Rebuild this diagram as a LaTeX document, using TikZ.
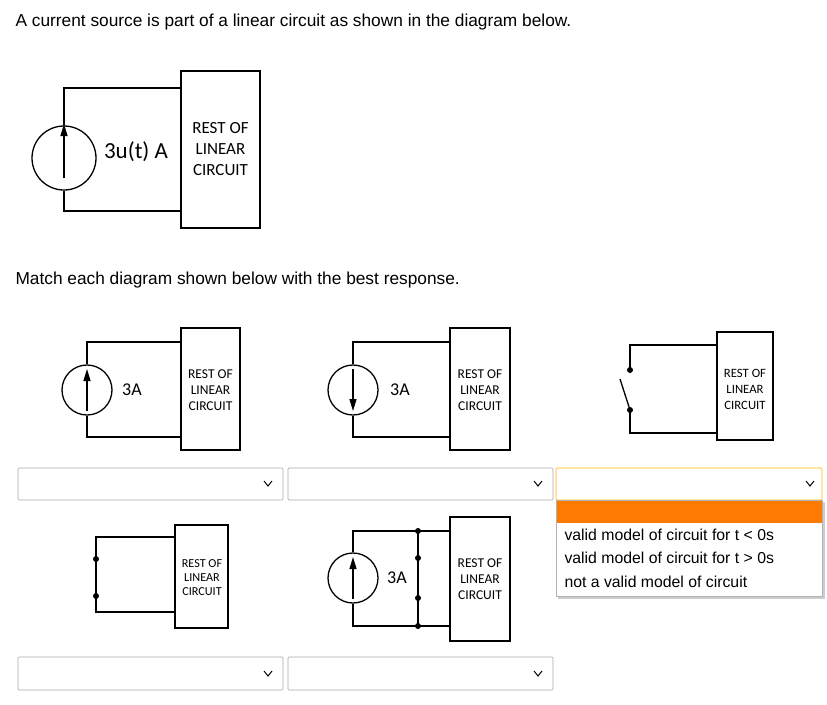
\documentclass[tikz,border=0pt]{standalone}
\usepackage{fontspec}
\usetikzlibrary{arrows.meta}
\setmainfont{Liberation Sans}
\newfontfamily\carl{Carlito}
\begin{document}
\begin{tikzpicture}[x=1pt,y=-1pt,
 w/.style={line width=1.3pt},
 box/.style={draw,line width=1.3pt,inner sep=0pt},
 btxt/.style={font=\carl\fontsize{13.5}{16}\selectfont,align=center},
 src/.style={draw,circle,line width=1.3pt,inner sep=0pt},
 dd/.style={draw=gray!70,rounded corners=1pt,line width=0.6pt},
 dot/.style={circle,fill,inner sep=0pt,minimum size=6pt},
 arr/.style={line width=1.3pt,-{Triangle[length=12pt,width=7pt]}}]
\useasboundingbox (0,0) rectangle (827,704);
\node[anchor=west,font=\fontsize{17.3}{19}\selectfont] (t1) at (12,22) {A current source is part of a linear circuit as shown in the diagram below.};
\node[anchor=west,font=\fontsize{17.3}{19}\selectfont] (t2) at (12,280) {Match each diagram shown below with the best response.};
% top circuit
\node[src,minimum size=64pt] (s0) at (64,158) {};
\node[box,minimum width=79pt,minimum height=157pt] (b0) at (220.5,149.5) {};
\node[btxt,font=\carl\fontsize{17}{21}\selectfont] (bt0) at (220.5,149) {REST OF\\LINEAR\\CIRCUIT};
\node[font=\carl\fontsize{23}{25}\selectfont] (l0) at (136,152) {3u(t) A};
\draw[w] (s0.north) -- (64,88) -- (b0.west|-0,88);
\draw[w] (s0.south) -- (64,211) -- (b0.west|-0,211);
\draw[arr] (64,178) -- (64,124);
% circuit 1
\node[src,minimum size=50pt] (s1) at (87,390) {};
\node[box,minimum width=59pt,minimum height=122pt] (b1) at (210.5,389) {};
\node[btxt] (bt1) at (210.5,390) {REST OF\\LINEAR\\CIRCUIT};
\node[font=\carl\fontsize{18}{20}\selectfont] (l1) at (132,390) {3A};
\draw[w] (s1.north) -- (87,342) -- (b1.west|-0,342);
\draw[w] (s1.south) -- (87,437) -- (b1.west|-0,437);
\draw[arr] (87,411) -- (87,369);
% circuit 2
\node[src,minimum size=50pt] (s2) at (353,390) {};
\node[box,minimum width=60pt,minimum height=122pt] (b2) at (480,389) {};
\node[btxt] (bt2) at (480,390) {REST OF\\LINEAR\\CIRCUIT};
\node[font=\carl\fontsize{18}{20}\selectfont] (l2) at (400,390) {3A};
\draw[w] (s2.north) -- (353,342) -- (b2.west|-0,342);
\draw[w] (s2.south) -- (353,437) -- (b2.west|-0,437);
\draw[arr] (353,369) -- (353,411);
% circuit 3
\node[box,minimum width=56pt,minimum height=108pt] (b3) at (745,386) {};
\node[btxt,font=\carl\fontsize{12.7}{16}\selectfont] (bt3) at (745,389) {REST OF\\LINEAR\\CIRCUIT};
\coordinate (sw) at (620,379);
\draw[w] (630,370) -- (630,345) -- (b3.west|-0,345);
\draw[w] (630,410) -- (630,433) -- (b3.west|-0,433);
\draw[w] (630,410) -- (sw);
\node[dot] (d31) at (630,370) {};
\node[dot] (d32) at (630,410) {};
% dropdowns row 1
\foreach \x in {18,288}{
 \draw[dd] (\x,468) rectangle ++(265,32);
 \draw[line width=1pt] (\x+246,481) -- (\x+250,486) -- (\x+254,481);}
\draw[draw=orange!60!yellow,line width=0.6pt,rounded corners=1pt] (556,468) rectangle (822,500);
\draw[line width=1pt] (806,481) -- (810,486) -- (814,481);
% list
\fill[gray!40] (558,502) rectangle (825,599);
\draw[fill=white,draw=gray!60] (556,500) rectangle (822,596);
\fill[orange!90!red!95!yellow] (556.5,500.5) rectangle (821.5,523);
\node[anchor=west,font=\fontsize{15.8}{17}\selectfont] (o1) at (561,535) {valid model of circuit for t < 0s};
\node[anchor=west,font=\fontsize{15.8}{17}\selectfont] (o2) at (561,558) {valid model of circuit for t > 0s};
\node[anchor=west,font=\fontsize{15.8}{17}\selectfont] (o3) at (561,582) {not a valid model of circuit};
% circuit 4
\node[box,minimum width=53pt,minimum height=103pt] (b4) at (201.5,576.5) {};
\node[btxt,font=\carl\fontsize{12.2}{14}\selectfont] (bt4) at (202,578) {REST OF\\LINEAR\\CIRCUIT};
\draw[w] (b4.west|-0,537) -- (96,537) -- (96,612) -- (b4.west|-0,612);
\node[dot] (d41) at (96,559) {};
\node[dot] (d42) at (96,596) {};
% circuit 5
\node[src,minimum size=50pt] (s5) at (353,578) {};
\node[box,minimum width=60pt,minimum height=124pt] (b5) at (480,579) {};
\node[btxt] (bt5) at (480,579) {REST OF\\LINEAR\\CIRCUIT};
\node[font=\carl\fontsize{18}{20}\selectfont] (l5) at (397,578) {3A};
\draw[w] (s5.north) -- (353,531) -- (b5.west|-0,531);
\draw[w] (s5.south) -- (353,626) -- (b5.west|-0,626);
\draw[w] (418,531) -- (418,626);
\node[dot] (d51) at (418,531) {};
\node[dot] (d52) at (418,558) {};
\node[dot] (d53) at (418,598) {};
\node[dot] (d54) at (418,626) {};
\draw[arr] (353,599) -- (353,557);
% dropdowns row 2
\foreach \x in {18,288}{
 \draw[dd] (\x,657) rectangle ++(265,33);
 \draw[line width=1pt] (\x+246,671) -- (\x+250,676) -- (\x+254,671);}
\end{tikzpicture}
\end{document}
